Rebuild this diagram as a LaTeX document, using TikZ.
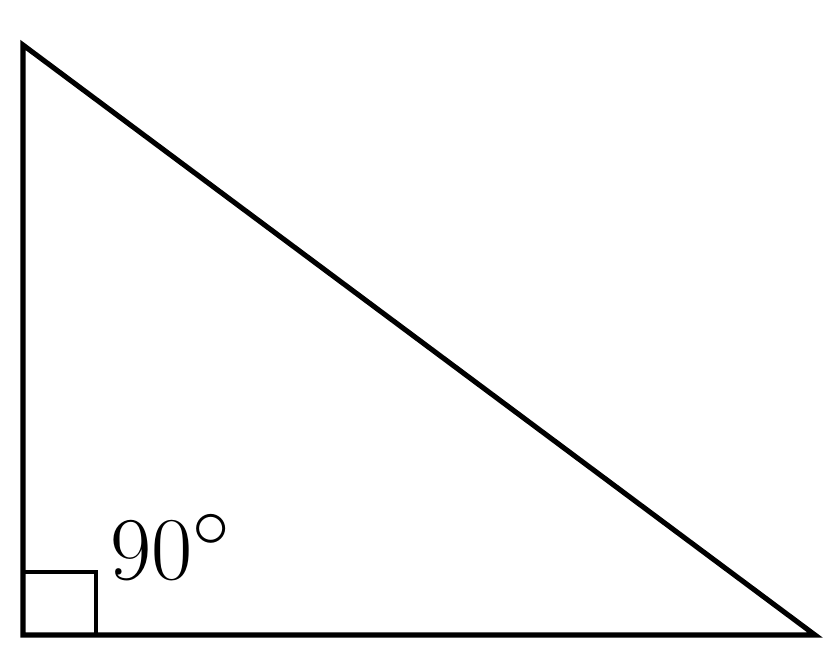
\documentclass[tikz,border=0pt]{standalone}
\usepackage{graphicx}
\usetikzlibrary{positioning}

\begin{document}
\begin{tikzpicture}[
	x=0.02cm, y=0.02cm,
	edge/.style={line width=2.9pt, draw=black, line join=miter}]

\tikzstyle{rightmark} = [
    line width = 2.5pt,
    draw = black
]
\tikzstyle{anglelabel} = [
    anchor = base,
    inner sep = 0pt,
    font = \Huge
]

\useasboundingbox (0,0) rectangle (840,670);

\coordinate (top) at (23,625);
\coordinate (corner) at (23,35);
\coordinate (tip) at (815,35);
\coordinate (markend) at (96,98);

\draw [edge] (top) -- (corner) -- (tip) -- cycle;
\draw [rightmark] (corner |- markend) -- (markend) -- (markend |- corner);

\node [anglelabel] (angle) at (171,90) {\scalebox{2.05}{$90^\circ$}};
\end{tikzpicture}
\end{document}
